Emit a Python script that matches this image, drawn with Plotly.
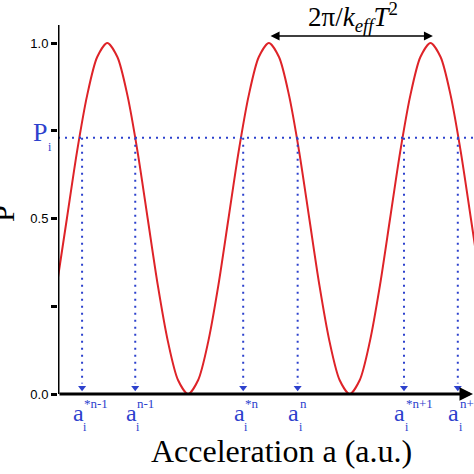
import plotly.graph_objects as go

# ---- data (acceleration in arbitrary units, one fringe period = 1) ----
accel = [-0.0075, 0.055, 0.1175, 0.18, 0.2425, 0.305, 0.3675, 0.43, 0.4925,
         0.555, 0.6175, 0.68, 0.7425, 0.805, 0.8675, 0.93, 0.9925,
         1.055, 1.1175, 1.18, 1.2425, 1.305, 1.3675, 1.43, 1.4925,
         1.555, 1.6175, 1.68, 1.7425, 1.805, 1.8675, 1.93, 1.9925,
         2.055, 2.1175, 2.18, 2.2425, 2.305, 2.3675, 2.43, 2.4925,
         2.555, 2.6175, 2.68]
prob = [0.31, 0.50, 0.69, 0.85, 0.96, 1.00, 0.96, 0.85, 0.69,
        0.50, 0.31, 0.15, 0.04, 0.00, 0.04, 0.15, 0.31,
        0.50, 0.69, 0.85, 0.96, 1.00, 0.96, 0.85, 0.69,
        0.50, 0.31, 0.15, 0.04, 0.00, 0.04, 0.15, 0.31,
        0.50, 0.69, 0.85, 0.96, 1.00, 0.96, 0.85, 0.69,
        0.50, 0.31, 0.15]
p_i = 0.73
a_i = [0.149, 0.478, 1.146, 1.483, 2.141, 2.474]
a_sup = ["*n-1", "n-1", "*n", "n", "*n+1", "n+1"]
peak_left, peak_right = 1.306, 2.320
y_ticks = [0.0, 0.25, 0.5, 0.75, 1.0]
y_ticktext = ["0.0", "", "0.5", "", "1.0"]

BLUE = "rgb(45,65,205)"
RED = "rgb(222,35,40)"
SERIF = "Liberation Serif"

PX = 161.6          # pixels per data unit on x
PLOT_W = 416.0
PLOT_H = 393.0      # plot height in px
def py(pix):        # figure pixel row -> paper y
    return (394 - pix) / PLOT_H
def pxp(pix):       # figure pixel column -> paper x
    return (pix - 58) / PLOT_W

fig = go.Figure()

# red fringe curve
fig.add_trace(go.Scatter(x=accel, y=prob, mode="lines",
                         line=dict(color=RED, width=2, shape="spline", smoothing=0.8),
                         hoverinfo="skip"))

# horizontal dotted line at P_i
fig.add_trace(go.Scatter(x=[0, 2.7], y=[p_i, p_i], mode="lines",
                         line=dict(color=BLUE, width=2, dash="2px,5px"),
                         hoverinfo="skip"))

# vertical dotted lines
vx, vy = [], []
for a in a_i:
    vx += [a, a, None]
    vy += [p_i, 0.03, None]
fig.add_trace(go.Scatter(x=vx, y=vy, mode="lines",
                         line=dict(color=BLUE, width=2, dash="2px,5px"),
                         hoverinfo="skip"))
fig.add_trace(go.Scatter(x=a_i, y=[0.018] * len(a_i), mode="markers",
                         marker=dict(symbol="triangle-down", size=7, color=BLUE),
                         hoverinfo="skip"))

# axis lines
fig.add_shape(type="line", x0=0, x1=0, y0=0, y1=1.051, xref="x", yref="y",
              line=dict(color="black", width=3))
fig.add_annotation(x=2.568, y=0, ax=0, ay=0, xref="x", yref="y",
                   axref="x", ayref="y", text="", showarrow=True,
                   arrowhead=2, arrowsize=0.9, arrowwidth=3, arrowcolor="black")

# double arrow for the period
fig.add_annotation(x=peak_right, y=1.02, ax=peak_left, ay=1.02, xref="x", yref="y",
                   axref="x", ayref="y", text="", showarrow=True,
                   arrowhead=2, startarrowhead=2, arrowside="end+start",
                   arrowsize=1.2, startarrowsize=1.2, arrowwidth=1.5, arrowcolor="black")
fig.add_annotation(x=(peak_left + peak_right) / 2 + 0.01, y=py(17), xref="x", yref="paper",
                   text="2π/<i>k</i><sub><i>eff</i></sub><i>T</i><sup>2</sup>",
                   xanchor="center", yanchor="middle",
                   showarrow=False, font=dict(family=SERIF, size=27, color="black"))

# a_i labels
for a, s in zip(a_i, a_sup):
    fig.add_annotation(x=a - 4 / PX, y=py(413), xref="x", yref="paper", text="a",
                       xanchor="center", yanchor="middle",
                       showarrow=False, font=dict(family=SERIF, size=24, color=BLUE))
    fig.add_annotation(x=a + 3 / PX, y=py(427), xref="x", yref="paper", text="i",
                       xanchor="center", yanchor="middle",
                       showarrow=False, font=dict(family=SERIF, size=12, color=BLUE))
    fig.add_annotation(x=a + 0 / PX, y=py(404), xref="x", yref="paper", text=s,
                       xanchor="left", yanchor="middle", showarrow=False,
                       font=dict(family=SERIF, size=13, color=BLUE))

# P_i label
fig.add_annotation(x=pxp(40), y=py(132), xref="paper", yref="paper", text="P",
                   showarrow=False, xanchor="center", yanchor="middle",
                   font=dict(family=SERIF, size=26, color=BLUE))
fig.add_annotation(x=pxp(50), y=py(147), xref="paper", yref="paper", text="i",
                   showarrow=False, xanchor="center", yanchor="middle",
                   font=dict(family=SERIF, size=12, color=BLUE))

# axis titles
fig.add_annotation(x=pxp(4), y=py(213), xref="paper", yref="paper", text="P",
                   textangle=-90, showarrow=False, xanchor="center", yanchor="middle",
                   font=dict(family=SERIF, size=30, color="black"))
fig.add_annotation(x=pxp(281), y=py(451), xref="paper", yref="paper",
                   text="Acceleration a (a.u.)", showarrow=False,
                   xanchor="center", yanchor="middle",
                   font=dict(family=SERIF, size=32, color="black"))

fig.update_layout(
    width=474, height=474,
    margin=dict(l=58, r=0, t=1, b=80),
    paper_bgcolor="white", plot_bgcolor="white",
    showlegend=False,
    xaxis=dict(range=[0, PLOT_W / PX], showgrid=False, zeroline=False, showline=False,
               showticklabels=False, ticks=""),
    yaxis=dict(range=[0, PLOT_H / 351], showgrid=False, zeroline=False, showline=False,
               tickvals=y_ticks, ticktext=y_ticktext, ticks="outside", ticklen=6,
               tickwidth=3, tickcolor="black",
               tickfont=dict(family="Liberation Sans", size=13, color="black")),
)

fig.write_html("out.html")
